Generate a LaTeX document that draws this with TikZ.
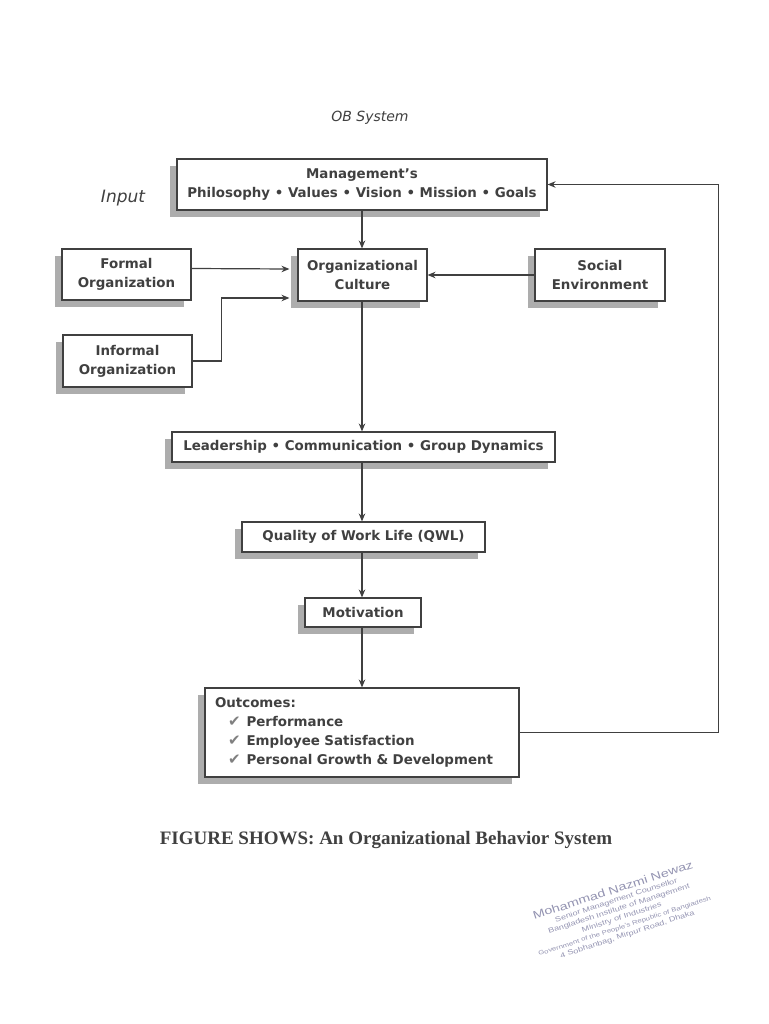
\documentclass[tikz,border=0pt]{standalone}
\usepackage{fontspec}
\setmainfont{DejaVu Sans}
\newfontfamily\capfont{Liberation Serif}
\newfontfamily\stampfont[FakeStretch=1.3]{Liberation Sans}
\usetikzlibrary{arrows.meta, shadows}

\definecolor{ink}{gray}{0.25}
\definecolor{shade}{gray}{0.68}
\definecolor{stampink}{rgb}{0.58,0.58,0.7}

\tikzset{
	obbox/.style = {draw = ink, line width = 1.1pt, fill = white, inner sep = 0pt,
		align = center, text = ink, font = \bfseries\fontsize{13.4}{19}\selectfont,
		drop shadow = {shadow xshift = -7pt, shadow yshift = -7pt, fill = shade, opacity = 1}},
	flow/.style = {draw = ink, line width = 1.2pt, -{Stealth[length=8pt, width=6.5pt]}},
	hand/.style = {text = ink, font = \itshape}
}
\newcommand{\tick}{\hspace*{13pt}{\color{gray}\fontsize{15}{15}\selectfont ✔}\hspace*{6pt}}

\begin{document}
\begin{tikzpicture}[x = 1pt, y = -1pt]
	\fill[white] (0,0) rectangle (768,1024);

	% handwritten notes
	\node[hand] (note) at (370,118) {\fontsize{14}{15}\selectfont OB System};
	\node[hand] (input) at (123,198) {\fontsize{17}{18}\selectfont Input};

	% boxes
	\node[obbox, minimum width = 370pt, minimum height = 51pt] (mgmt) at (362,184.5)
		{Management’s\\ Philosophy • Values • Vision • Mission • Goals};
	\node[obbox, minimum width = 129pt, minimum height = 51pt] (formal) at (126.5,274.5)
		{Formal\\ Organization};
	\node[obbox, minimum width = 129pt, minimum height = 52pt] (culture) at (362.5,275)
		{Organizational\\ Culture};
	\node[obbox, minimum width = 130pt, minimum height = 52pt] (social) at (600,275)
		{Social\\ Environment};
	\node[obbox, minimum width = 129pt, minimum height = 52pt] (informal) at (127.5,361)
		{Informal\\ Organization};
	\node[obbox, minimum width = 383pt, minimum height = 30pt] (lead) at (363.5,447)
		{Leadership • Communication • Group Dynamics};
	\node[obbox, minimum width = 243pt, minimum height = 30pt] (qwl) at (363.5,537)
		{Quality of Work Life (QWL)};
	\node[obbox, minimum width = 116pt, minimum height = 29pt] (motiv) at (363,612.5)
		{Motivation};
	\node[obbox, minimum width = 314pt, minimum height = 89pt, align = left,
		text width = 294pt] (outcomes) at (362,732.5)
		{Outcomes:\\
		\tick Performance\\
		\tick Employee Satisfaction\\
		\tick Personal Growth \& Development};

	% connectors
	\draw[flow] (mgmt.south) -- (mgmt.south |- culture.north);
	\draw[flow] ([yshift = 6pt]formal.east) -- ([xshift = -8pt, yshift = 6pt]culture.west);
	\draw[flow] (informal.east) -- ++(29,0) |- ([xshift = -8pt, yshift = -23pt]culture.west);
	\draw[flow] (social.west) -- (culture.east);
	\draw[flow] (mgmt.south |- culture.south) -- (mgmt.south |- lead.north);
	\draw[flow] (mgmt.south |- lead.south) -- (mgmt.south |- qwl.north);
	\draw[flow] (mgmt.south |- qwl.south) -- (mgmt.south |- motiv.north);
	\draw[flow] (mgmt.south |- motiv.south) -- (mgmt.south |- outcomes.north);
	\draw[flow] (outcomes.east) -- ++(199,0) |- (mgmt.east);

	% caption
	\node (caption) at (386,840)
		{\capfont\bfseries\fontsize{19}{22}\selectfont\color{ink} FIGURE SHOWS: An Organizational Behavior System};

	% stamp
	\node[rotate = 18, align = center, text = stampink, inner sep = 0pt,
		font = \stampfont\fontsize{7}{9}\selectfont] (stamp) at (620,912)
		{{\fontsize{11}{13}\selectfont Mohammad Nazmi Newaz}\\
		Senior Management Counsellor\\
		Bangladesh Institute of Management\\
		Ministry of Industries\\
		{\fontsize{6}{9}\selectfont Government of the People's Republic of Bangladesh}\\
		4 Sobhanbag, Mirpur Road, Dhaka};
\end{tikzpicture}
\end{document}
